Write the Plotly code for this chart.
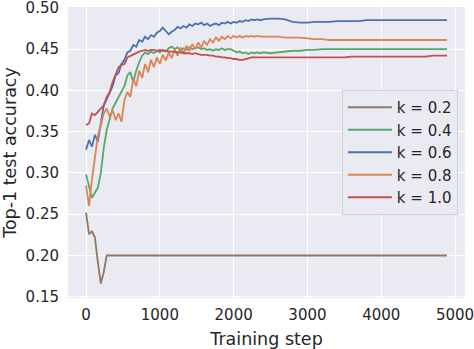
import plotly.graph_objects as go

# Training steps: dense logging early on, sparser later
steps = list(range(0, 2401, 40)) + list(range(2500, 4801, 100)) + [4890]

k_labels = ["k = 0.2", "k = 0.4", "k = 0.6", "k = 0.8", "k = 1.0"]
colors = ["#937860", "#55A868", "#4C72B0", "#DD8452", "#C44E52"]

acc_k02 = [0.252, 0.226, 0.229, 0.222, 0.192, 0.166, 0.180, 0.200] + [0.200] * 53 + [0.200] * 25

acc_k04 = [0.298, 0.285, 0.270, 0.276, 0.282, 0.300, 0.330, 0.352, 0.366, 0.378,
           0.385, 0.392, 0.398, 0.405, 0.418, 0.422, 0.410, 0.424, 0.434, 0.442,
           0.446, 0.444, 0.447, 0.445, 0.448, 0.446, 0.449, 0.447, 0.451, 0.453,
           0.450, 0.452, 0.448, 0.451, 0.449, 0.452, 0.450, 0.451, 0.452, 0.450,
           0.451, 0.449, 0.450, 0.448, 0.450, 0.449, 0.451, 0.449, 0.450, 0.450,
           0.448, 0.446, 0.447, 0.445, 0.446, 0.444, 0.446, 0.445, 0.446, 0.445,
           0.446,
           0.445, 0.446, 0.447, 0.448, 0.448, 0.449, 0.449, 0.450, 0.450, 0.450,
           0.450, 0.450, 0.450, 0.450, 0.450, 0.450, 0.450, 0.450, 0.450, 0.450,
           0.450, 0.450, 0.450, 0.450, 0.450]

acc_k06 = [0.328, 0.340, 0.332, 0.346, 0.338, 0.362, 0.382, 0.389, 0.398, 0.405,
           0.418, 0.421, 0.432, 0.437, 0.446, 0.448, 0.455, 0.453, 0.461, 0.459,
           0.465, 0.462, 0.467, 0.465, 0.470, 0.472, 0.476, 0.472, 0.468, 0.471,
           0.473, 0.477, 0.475, 0.478, 0.476, 0.480, 0.478, 0.481, 0.480, 0.482,
           0.479, 0.481, 0.478, 0.480, 0.481, 0.479, 0.482, 0.481, 0.483, 0.481,
           0.483, 0.482, 0.484, 0.483, 0.485, 0.484, 0.486, 0.485, 0.486, 0.485,
           0.486,
           0.487, 0.487, 0.486, 0.483, 0.482, 0.482, 0.483, 0.483, 0.483, 0.484,
           0.484, 0.484, 0.484, 0.485, 0.485, 0.485, 0.485, 0.485, 0.485, 0.485,
           0.485, 0.485, 0.485, 0.485, 0.485]

acc_k08 = [0.285, 0.260, 0.292, 0.322, 0.345, 0.358, 0.372, 0.378, 0.368, 0.376,
           0.364, 0.372, 0.362, 0.388, 0.398, 0.392, 0.414, 0.405, 0.424, 0.415,
           0.432, 0.422, 0.437, 0.428, 0.440, 0.432, 0.443, 0.436, 0.446, 0.439,
           0.449, 0.442, 0.452, 0.445, 0.454, 0.448, 0.456, 0.450, 0.458, 0.452,
           0.460, 0.455, 0.462, 0.458, 0.464, 0.460, 0.465, 0.462, 0.466, 0.463,
           0.466, 0.464, 0.466, 0.464, 0.466, 0.465, 0.466, 0.465, 0.466, 0.465,
           0.465,
           0.465, 0.465, 0.464, 0.464, 0.464, 0.463, 0.462, 0.462, 0.461, 0.461,
           0.461, 0.461, 0.461, 0.461, 0.461, 0.461, 0.461, 0.461, 0.461, 0.461,
           0.461, 0.461, 0.461, 0.461, 0.461]

acc_k10 = [0.358, 0.360, 0.372, 0.370, 0.374, 0.378, 0.382, 0.392, 0.398, 0.410,
           0.420, 0.428, 0.431, 0.432, 0.440, 0.442, 0.444, 0.445, 0.447, 0.448,
           0.449, 0.448, 0.449, 0.449, 0.448, 0.449, 0.448, 0.448, 0.447, 0.447,
           0.447, 0.446, 0.446, 0.445, 0.445, 0.445, 0.444, 0.445, 0.444, 0.443,
           0.443, 0.443, 0.442, 0.442, 0.441, 0.441, 0.440, 0.440, 0.439, 0.439,
           0.438, 0.438, 0.437, 0.437, 0.438, 0.439, 0.440, 0.440, 0.440, 0.440,
           0.440,
           0.440, 0.440, 0.440, 0.440, 0.440, 0.440, 0.440, 0.440, 0.440, 0.440,
           0.440, 0.441, 0.441, 0.441, 0.441, 0.441, 0.441, 0.441, 0.441, 0.441,
           0.441, 0.441, 0.442, 0.442, 0.442]

series = [acc_k02, acc_k04, acc_k06, acc_k08, acc_k10]

x_ticks = [0, 1000, 2000, 3000, 4000, 5000]
y_ticks = [0.15, 0.20, 0.25, 0.30, 0.35, 0.40, 0.45, 0.50]

text_color = "#262626"
font_family = "DejaVu Sans"

fig = go.Figure()
for label, color, values in zip(k_labels, colors, series):
    fig.add_trace(go.Scatter(
        x=steps, y=values, mode="lines", name=label,
        line=dict(color=color, width=1.8),
    ))

fig.update_layout(
    width=474, height=349,
    margin=dict(l=68, r=9, t=7, b=51),
    paper_bgcolor="white",
    plot_bgcolor="#EAEAF2",
    font=dict(family=font_family, color=text_color, size=15),
    showlegend=True,
    legend=dict(
        x=0.982, y=0.5, xanchor="right", yanchor="middle",
        bgcolor="#EAEAF2", bordercolor="#D2D2DA", borderwidth=1,
        itemwidth=44,
        font=dict(size=15, color=text_color),
    ),
)
fig.update_xaxes(
    range=[-244.5, 5134.5], tickvals=x_ticks, showgrid=True, gridcolor="white",
    gridwidth=1.2, zeroline=False, showline=False, ticks="", automargin=False,
    tickfont=dict(size=15), ticklabelstandoff=6, ticklabeloverflow="allow",
    title=dict(text="Training step", font=dict(size=17.5), standoff=11),
)
fig.update_yaxes(
    range=[0.1485, 0.501], tickvals=y_ticks, tickformat=".2f", showgrid=True,
    gridcolor="white", gridwidth=1.2, zeroline=False, showline=False, ticks="",
    automargin=False,
    tickfont=dict(size=15), ticklabelstandoff=8, ticklabeloverflow="allow",
    title=dict(text="Top-1 test accuracy", font=dict(size=17.5), standoff=6),
)

fig.write_html("out.html")
